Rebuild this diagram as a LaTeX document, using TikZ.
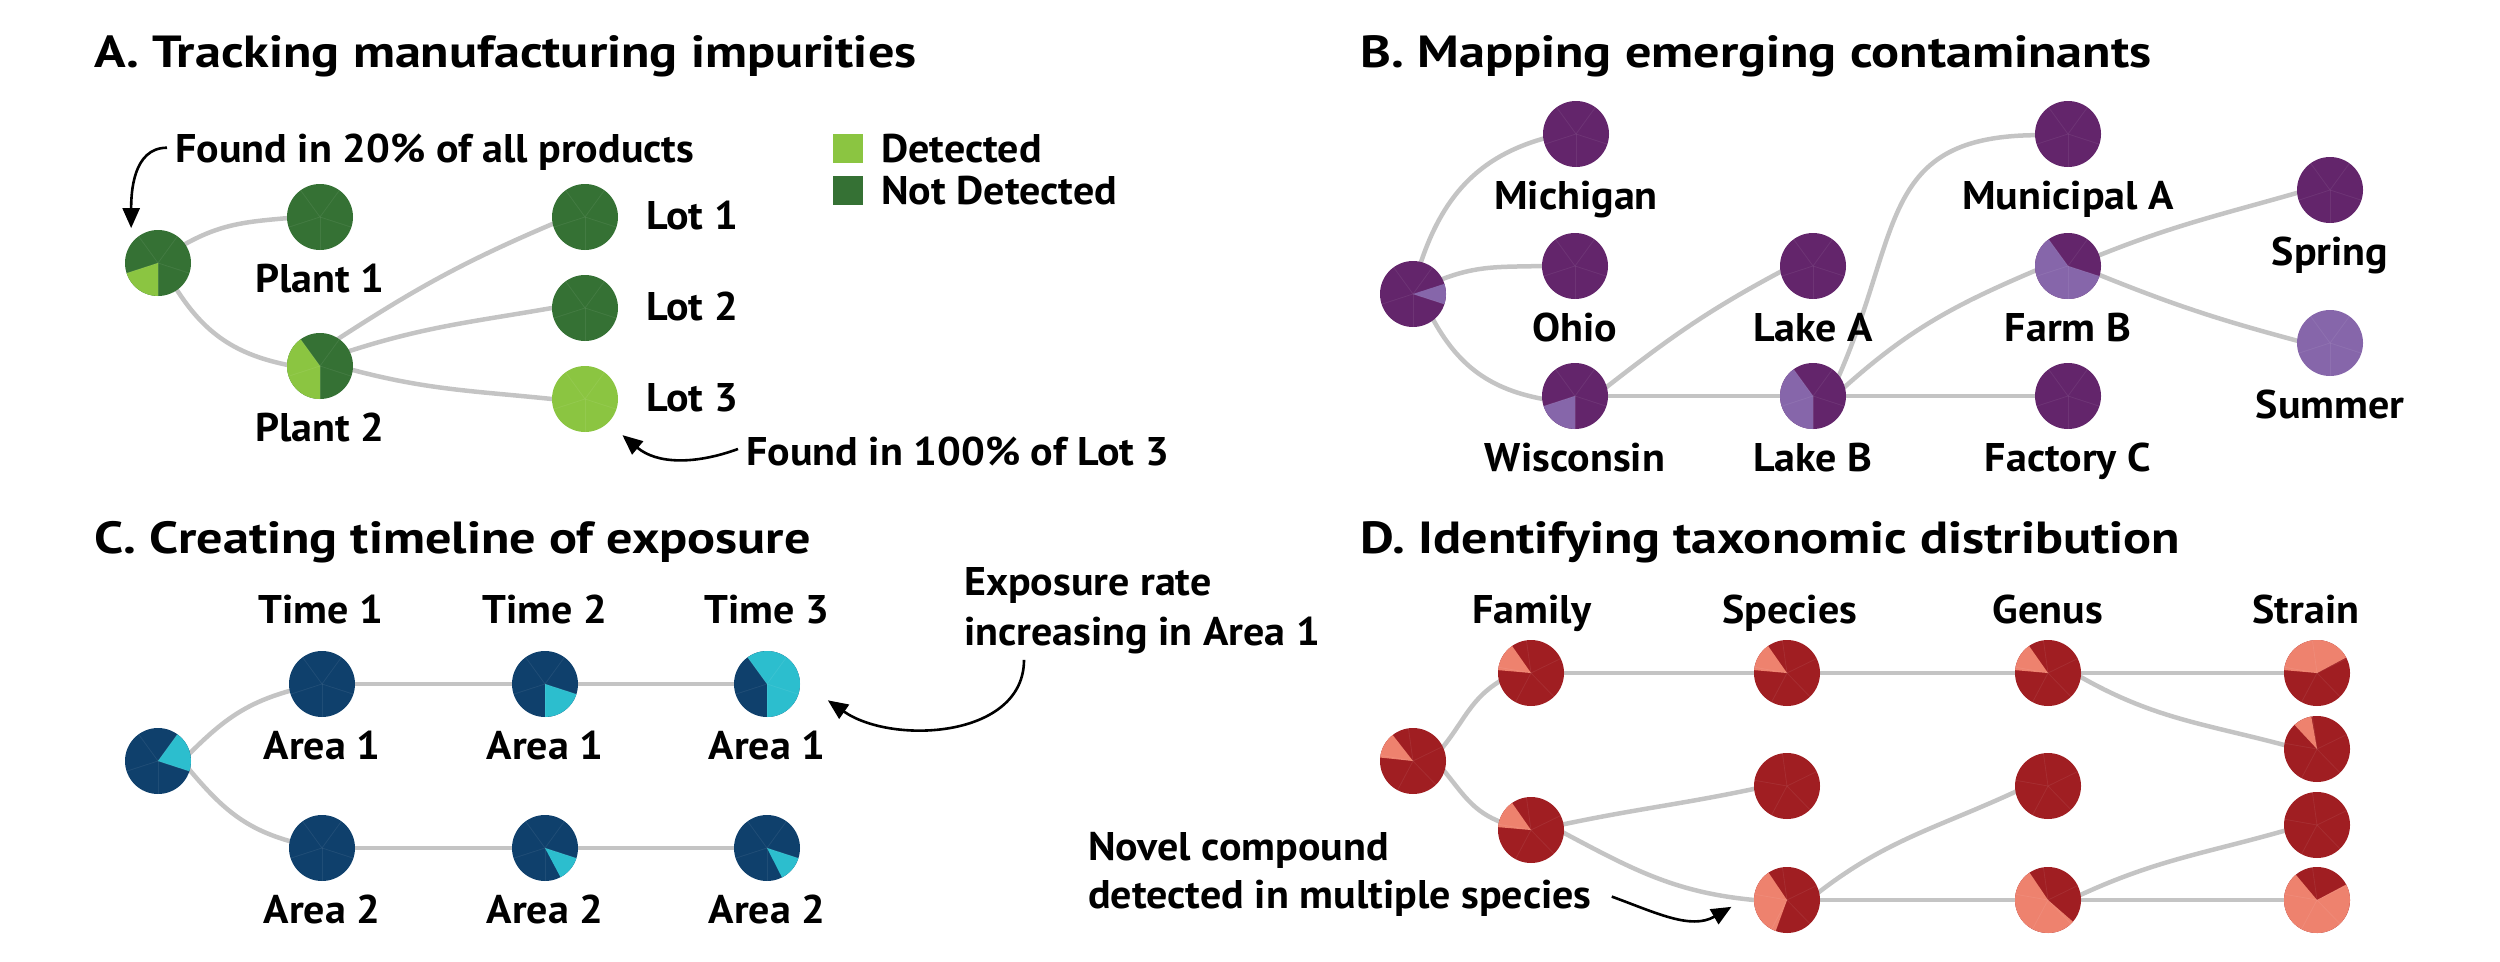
\documentclass[tikz,border=0pt]{standalone}
\usepackage{fontspec}
\setmainfont{PT Sans}[FakeStretch=1.05]
\newfontfamily\ttlfont{PT Sans}[FakeStretch=1.16]
\usetikzlibrary{arrows.meta,calc}
\definecolor{gL}{HTML}{8BC541}
\definecolor{gD}{HTML}{357134}
\definecolor{pD}{HTML}{63256B}
\definecolor{pL}{HTML}{8666AA}
\definecolor{nD}{HTML}{0F406C}
\definecolor{nL}{HTML}{2CBECE}
\definecolor{rDk}{HTML}{A01E22}
\definecolor{rL}{HTML}{EE826E}
\definecolor{lgray}{HTML}{C4C4C4}
\newcommand\pienode[3]{\node[pn] (#1) at (#2,-#3) {};}
\newcommand\piebase[2]{\fill[#2] (#1.center) circle[radius=33pt];}
\newcommand\pwedge[4]{\fill[#2] (#1.center) -- ([shift={(#3:33pt)}]#1.center) arc[start angle=#3,end angle=#4,radius=33pt] -- cycle;}
\newcommand\seglines[2]{\foreach \a in {#2}{\draw[segline] (#1.center) -- ([shift={(\a:33pt)}]#1.center);}}
\begin{document}
\begin{tikzpicture}[x=1pt,y=1pt,
  pn/.style={circle,minimum size=66pt,inner sep=0pt,outer sep=0pt},
  link/.style={draw=lgray,line width=4.5pt,shorten <=-4pt,shorten >=-4pt},
  segline/.style={draw=white,opacity=0.07,line width=0.8pt},
  ttl/.style={font=\ttlfont\fontsize{45}{50}\selectfont\bfseries,anchor=base west,inner sep=0pt},
  lbl/.style={font=\fontsize{40}{48}\selectfont\bfseries,anchor=base,inner sep=0pt},
  lblw/.style={lbl,anchor=base west},
  note/.style={font=\fontsize{40}{48}\selectfont\bfseries,inner sep=0pt,align=left},
  arr/.style={draw=black,line width=2.6pt,-{Triangle[length=20pt,width=17pt]}},
  swatch/.style={rectangle,minimum width=30pt,minimum height=29pt,inner sep=0pt}]
\useasboundingbox (0,0) rectangle (2500,-961);

% ---------- titles
\node[ttl] (tA) at (94,-67) {A.\hspace{0.3em}Tracking manufacturing impurities};
\node[ttl] (tB) at (1360,-67) {B.\hspace{0.3em}Mapping emerging contaminants};
\node[ttl] (tC) at (94,-553) {C.\hspace{0.3em}Creating timeline of exposure};
\node[ttl] (tD) at (1360,-553) {D.\hspace{0.3em}Identifying taxonomic distribution};

% ---------- pie nodes
\pienode{rA}{158}{263}\pienode{p1}{320}{217}\pienode{p2}{320}{366}
\pienode{l1}{585}{217}\pienode{l2}{585}{308}\pienode{l3}{585}{399}
\pienode{rB}{1413}{294}\pienode{mi}{1576}{134}\pienode{oh}{1575}{266}\pienode{wi}{1575}{396}
\pienode{la}{1813}{266}\pienode{lb}{1813}{396}\pienode{ma}{2068}{134}\pienode{fb}{2068}{266}
\pienode{fc}{2068}{396}\pienode{sp}{2330}{190}\pienode{su}{2330}{343}
\pienode{rC}{158}{761}\pienode{a11}{322}{684}\pienode{a12}{545}{684}\pienode{a13}{767}{684}
\pienode{a21}{322}{848}\pienode{a22}{545}{848}\pienode{a23}{767}{848}
\pienode{rD}{1413}{761}\pienode{f1}{1531}{673}\pienode{s1}{1787}{673}\pienode{g1}{2048}{673}
\pienode{st1}{2317}{673}\pienode{st2}{2317}{749}\pienode{f2}{1531}{830}\pienode{s2}{1787}{786}
\pienode{g2}{2048}{786}\pienode{st3}{2317}{825}\pienode{s3}{1787}{900}\pienode{g3}{2048}{900}
\pienode{st4}{2317}{900}

% ---------- links
\draw[link] (rA.35) to[out=30,in=185] (p1.182);
\draw[link] (rA.-55) to[out=-58,in=169] (p2.178);
\draw[link] (p2.56) to[out=33,in=203] (l1.192);
\draw[link] (p2.27) to[out=18,in=190] (l2.180);
\draw[link] (p2.-7) to[out=-15,in=174] (l3.180);

\draw[link] (rB.76) to[out=72,in=195] (mi.188);
\draw[link] (rB.27) to[out=22,in=182] (oh.180);
\draw[link] (rB.-52) to[out=-62,in=170] (wi.185);
\draw[link] (wi.16) to[out=38,in=208] (la.190);
\draw[link] (wi) -- (lb);
\draw[link] (lb.38) to[out=66,in=180,looseness=1.3] (ma.182);
\draw[link] (lb.16) to[out=42,in=203] (fb.188);
\draw[link] (lb) -- (fc);
\draw[link] (fb.19) to[out=22,in=196] (sp.185);
\draw[link] (fb.-16) to[out=-22,in=165] (su.176);

\draw[link] (rC.14) to[out=45,in=195] (a11.192);
\draw[link] (rC.-16) to[out=-50,in=165] (a21.168);
\draw[link] (a11) -- (a12);
\draw[link] (a12) -- (a13);
\draw[link] (a21) -- (a22);
\draw[link] (a22) -- (a23);

\draw[link] (rD.25) to[out=50,in=210] (f1.195);
\draw[link] (rD.-18) to[out=-50,in=160] (f2.165);
\draw[link] (f1) -- (s1);
\draw[link] (s1) -- (g1);
\draw[link] (g1) -- (st1);
\draw[link] (g1.-7) to[out=-30,in=165] (st2.173);
\draw[link] (f2.10) to[out=12,in=192] (s2.185);
\draw[link] (f2.-5) to[out=-28,in=175] (s3.180);
\draw[link] (s3.14) to[out=38,in=205] (g2.190);
\draw[link] (s3) -- (g3);
\draw[link] (g3) -- (st4);
\draw[link] (g3.9) to[out=25,in=196] (st3.190);

% ---------- pies A
\foreach \n in {rA,p1,p2,l1,l2}{\piebase{\n}{gD}}
\piebase{l3}{gL}
\pwedge{rA}{gL}{198}{270}
\pwedge{p2}{gL}{126}{270}
\foreach \n in {rA,p1,p2,l1,l2,l3}{\seglines{\n}{126,54,-18,-90,198}}
% ---------- pies B
\foreach \n in {rB,mi,oh,wi,la,lb,ma,fb,fc,sp}{\piebase{\n}{pD}}
\piebase{su}{pL}
\pwedge{rB}{pL}{-18}{18}
\pwedge{wi}{pL}{198}{270}
\pwedge{lb}{pL}{126}{270}
\pwedge{fb}{pL}{126}{342}
\foreach \n in {rB,mi,oh,wi,la,lb,ma,fb,fc,sp,su}{\seglines{\n}{126,54,-18,-90,198}}
% ---------- pies C
\foreach \n in {rC,a11,a12,a13,a21,a22,a23}{\piebase{\n}{nD}}
\pwedge{rC}{nL}{-18}{54}
\pwedge{a12}{nL}{-90}{-18}
\pwedge{a13}{nL}{-90}{126}
\pwedge{a22}{nL}{-62}{-18}
\pwedge{a23}{nL}{-63}{-18}
\foreach \n in {rC,a11,a12,a13,a21,a22,a23}{\seglines{\n}{126,54,-18,-90,198}}
% ---------- pies D
\foreach \n in {rD,f1,s1,g1,st1,st2,f2,s2,g2,st3,s3,g3,st4}{\piebase{\n}{rDk}}
\pwedge{rD}{rL}{128}{174}
\pwedge{f1}{rL}{125}{175}
\pwedge{s1}{rL}{125}{175}
\pwedge{g1}{rL}{125}{175}
\pwedge{f2}{rL}{125}{175}
\pwedge{st1}{rL}{28}{175}
\pwedge{st2}{rL}{100}{133}
\pwedge{s3}{rL}{124}{250}
\pwedge{g3}{rL}{124}{319}
\pwedge{st4}{rL}{130}{388}
\foreach \n in {rD,f1,s1,g1,st1,st2,f2,s2,g2,st3,s3,g3,st4}{\seglines{\n}{98,26,-46,-118,170}}

% ---------- labels A
\node[lbl] (lp1) at (320,-292) {Plant 1};
\node[lbl] (lp2) at (320,-441) {Plant 2};
\node[lblw] (ll1) at (646,-229) {Lot 1};
\node[lblw] (ll2) at (646,-320) {Lot 2};
\node[lblw] (ll3) at (646,-411) {Lot 3};
\node[swatch,fill=gL] (sw1) at (848,-148.5) {};
\node[swatch,fill=gD] (sw2) at (848,-190.5) {};
\node[lblw] (lg1) at (881,-162) {Detected};
\node[lblw] (lg2) at (881,-204) {Not Detected};
\node[lblw] (fa) at (175,-162) {Found in 20\% of all products};
\node[lblw] (fl) at (746,-465) {Found in 100\% of Lot 3};
\draw[arr] ([xshift=-8pt,yshift=4pt]fa.west) to[out=180,in=90] ($(rA.center)+(127.6:44)$);
\draw[arr] ([xshift=-8pt,yshift=2pt]fl.west) to[out=200,in=-40] ($(l3.center)+(-44:52)$);

% ---------- labels B
\node[lbl] (lmi) at (1576,-209) {Michigan};
\node[lbl] (loh) at (1575,-341) {Ohio};
\node[lbl] (lwi) at (1575,-471) {Wisconsin};
\node[lbl] (lla) at (1813,-341) {Lake A};
\node[lbl] (llb) at (1813,-471) {Lake B};
\node[lbl] (lma) at (2068,-209) {Municipal A};
\node[lbl] (lfb) at (2068,-341) {Farm B};
\node[lbl] (lfc) at (2068,-471) {Factory C};
\node[lbl] (lsp) at (2330,-265) {Spring};
\node[lbl] (lsu) at (2330,-418) {Summer};

% ---------- labels C
\node[lbl] (h1) at (321,-623) {Time 1};
\node[lbl] (h2) at (545,-623) {Time 2};
\node[lbl] (h3) at (767,-623) {Time 3};
\node[lbl] (la11) at (322,-759) {Area 1};
\node[lbl] (la12) at (545,-759) {Area 1};
\node[lbl] (la13) at (767,-759) {Area 1};
\node[lbl] (la21) at (322,-923) {Area 2};
\node[lbl] (la22) at (545,-923) {Area 2};
\node[lbl] (la23) at (767,-923) {Area 2};
\node[note,anchor=north west,font=\fontsize{40}{50}\selectfont\bfseries] (ex) at (964,-567) {Exposure rate\\increasing in Area 1};
\draw[arr] ([xshift=60pt,yshift=-6pt]ex.south west) to[out=-90,in=-35] ($(a13.center)+(-15:63)$);

% ---------- labels D
\node[lbl] (hf) at (1532,-623) {Family};
\node[lbl] (hs) at (1790,-623) {Species};
\node[lbl] (hg) at (2048,-623) {Genus};
\node[lbl] (hst) at (2306,-623) {Strain};
\node[note,anchor=north west,font=\fontsize{40}{48}\selectfont\bfseries] (nv) at (1088,-832) {Novel compound\\detected in multiple species};
\draw[arr] ([xshift=20pt,yshift=20pt]nv.south east) to[out=-20,in=210] ($(s3.center)+(187:56)$);
\end{tikzpicture}
\end{document}
